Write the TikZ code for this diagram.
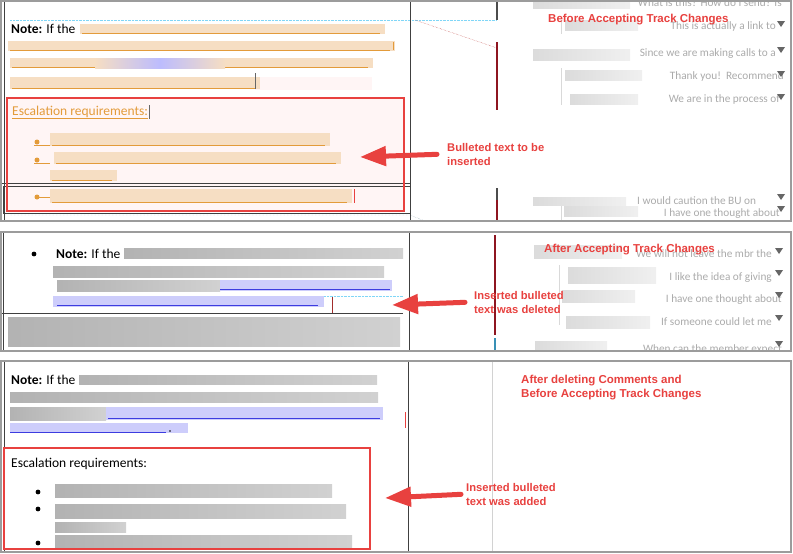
\documentclass[tikz,border=0pt]{standalone}
\usepackage{fontspec}
\setmainfont{Carlito}
\newfontfamily\arialfont{Liberation Sans}
\usetikzlibrary{arrows.meta}

\definecolor{framegray}{HTML}{9C9C9C}
\definecolor{markred}{HTML}{E8413F}
\definecolor{insorange}{HTML}{E39B3A}
\definecolor{peach}{HTML}{F6DEC3}
\definecolor{lavender}{HTML}{CDCDFB}
\definecolor{cmtgray}{HTML}{ABABAB}
\definecolor{linkblue}{HTML}{3C3CE0}
\definecolor{barred}{HTML}{8E1520}

\tikzset{
  panel/.style={draw=framegray, line width=2.5},
  pageedge/.style={draw=black!75, line width=0.8},
  blurbar/.style={left color=black!30, right color=black!18},
  namebar/.style={left color=gray!28, right color=gray!12},
  insbar/.style={fill=peach},
  doctext/.style={font=\fontsize{13.5}{15}\selectfont, inner sep=0},
  cmttext/.style={font=\fontsize{11.3}{13}\selectfont, text=cmtgray, inner sep=0},
  caption/.style={font=\arialfont\bfseries\fontsize{11.5}{14}\selectfont, text=markred, inner sep=0, align=left},
  notelabel/.style={font=\arialfont\bfseries\fontsize{11.2}{14}\selectfont, text=markred, inner sep=0, align=left},
  redbox/.style={draw=markred, line width=2},
  redarrow/.style={draw=markred, line width=5, line cap=round, -{Triangle[length=26pt,width=19pt]}}
}

\begin{document}
\begin{tikzpicture}[x=1pt,y=-1pt]
\useasboundingbox (0,0) rectangle (793,554);
\fill[white] (0,0) rectangle (793,554);

% ---------------- Panel 1: before accepting ----------------
\begin{scope}
\clip (2,2) rectangle (790,220);
\fill[red!4] (7,98) rectangle (404,211);
\fill[red!4] (255,77) rectangle (372,90);
% markup lines
\draw[cyan!50, densely dotted] (10,20) -- (497,20);
\draw[markred!80!black, densely dotted] (415,20) -- (497,48);
\draw[cyan!40!black!50, densely dotted] (10,215) -- (410,215) -- (425,221);
% page edges
\draw[pageedge] (4,0) -- (4,221);
\draw[pageedge] (410,0) -- (410,221);
\draw[pageedge] (0,183.5) -- (410,183.5);
\draw[pageedge] (3,186.5) rectangle (410,213);
% inserted text
\node[doctext, anchor=base west] (noteA) at (11,33) {\textbf{Note:} If the};
\foreach \xa/\ya/\xb/\yb in {80/24/385/34, 8/41/395/51, 10/58/373/68, 10/77/260/89,
    50/133/330/146, 54/152/341/164, 50/170/117/181, 50/189/352/203}
  {\fill[insbar] (\xa,\ya) rectangle (\xb,\yb);
   \draw[insorange, line width=0.8] (\xa+2,\yb-1) -- (\xb-5,\yb-1);}
\shade[left color=peach, right color=peach, middle color=lavender!70!blue!60] (95,58) rectangle (225,68);
\draw[black!60] (255,73) -- (255,89);
\draw[insorange] (393,42) -- (393,50);
\node[doctext, text=insorange, anchor=base west] (escA) at (12,115) {\underline{Escalation requirements:}};
\draw[black!60] ([xshift=1pt]escA.north east) -- ([xshift=1pt]escA.south east);
\foreach \by in {145,163}
  {\fill[insorange] (37,\by-3) circle (2.5);
   \draw[insorange, line width=0.8] (34,\by) -- (50,\by);}
\fill[insorange] (37,197) circle (2.5);
\draw[insorange, line width=0.8] (37,197) -- (50,197);
\draw[markred] (354,189) -- (354,203);
\draw[redbox] (7,98) rectangle (404,211);
% comment pane
\draw[black!70, line width=1.5] (497,0) -- (497,20);
\draw[barred, line width=1.5] (497,42) -- (497,110);
\draw[black!70, line width=1.5] (497,188) -- (497,200);
\draw[barred, line width=1.5] (497,200) -- (497,221);
\draw[gray!30] (561,20) -- (561,34);
\draw[gray!30] (561,68) -- (561,105);
\draw[gray!30] (561,200) -- (561,221);
\foreach \xa/\ya/\xb/\yb in {533/-2/630/8, 565/20/638/30, 533/49/630/60, 565/70/642/80,
    570/94/638/104, 533/197/626/205, 564/206/638/216}
  {\shade[namebar] (\xa,\ya) rectangle (\xb,\yb);}
\node[cmttext, anchor=base east] (cA0) at (782,6) {What is this? How do I send? Is};
\node[cmttext, anchor=base east] (cA1) at (776,30) {This is actually a link to};
\node[cmttext, anchor=base east] (cA2) at (776,56) {Since we are making calls to a};
\node[cmttext, anchor=base east] (cA3) at (784,79) {Thank you!\ \ Recommend};
\node[cmttext, anchor=base east] (cA4) at (780,102) {We are in the process of};
\node[cmttext, anchor=base west] (cA5) at (637,204) {I would caution the BU on};
\node[cmttext, anchor=base east] (cA6) at (780,216) {I have one thought about};
\foreach \tx/\ty in {781/24, 781/50, 781/74, 781/97, 781/197, 781/209}
  {\fill[black!60] (\tx-4,\ty-3) -- (\tx+4,\ty-3) -- (\tx,\ty+3) -- cycle;}
\node[caption, anchor=base west] (capA) at (548,23) {Before Accepting Track Changes};
\end{scope}
\draw[panel] (1,1) rectangle (791,221);

% note and arrow, panel 1
\coordinate (tipA) at (360,157);
\node[notelabel, anchor=north west] (lblA) at (447,143) {Bulleted text to be\\inserted};
\draw[redarrow] ([xshift=-10pt]lblA.west) -- (tipA);

% ---------------- Panel 2: after accepting ----------------
\begin{scope}
\clip (2,233) rectangle (790,350);
\draw[pageedge] (3,232) -- (3,351);
\draw[pageedge] (409,232) -- (409,351);
\node[doctext, anchor=base west] (noteB) at (56,258) {\textbf{Note:} If the};
\fill[black] (34,254) circle (2.4);
\shade[blurbar] (124,248) rectangle (403,258);
\shade[blurbar] (53,266) rectangle (384,277);
\shade[blurbar] (57,280) rectangle (220,291);
\fill[lavender] (220,280) rectangle (392,291);
\fill[lavender] (53,296) rectangle (324,307);
\draw[linkblue, line width=0.7] (220,289) -- (390,289);
\draw[linkblue, line width=0.7] (57,305) -- (318,305);
\draw[markred!70!black] (332,296) -- (332,313);
\draw[cyan!50, densely dotted] (324,296) -- (403,296);
\draw[pageedge] (0,313) -- (403,313);
\shade[blurbar] (8,317) rectangle (400,346);
% comment pane
\draw[barred, line width=1.5] (495,235) -- (495,335);
\draw[cyan!70!black, line width=1.5] (495,338) -- (495,351);
\draw[gray!30] (559,265) -- (559,325);
\foreach \xa/\ya/\xb/\yb in {534/245/622/258, 568/267/656/283, 562/290/635/302,
    566/316/650/328, 535/341/607/352}
  {\shade[namebar] (\xa,\ya) rectangle (\xb,\yb);}
\node[cmttext, anchor=base east] (cB1) at (772,257) {We will not leave the mbr the};
\node[cmttext, anchor=base east] (cB2) at (772,280) {I like the idea of giving};
\node[cmttext, anchor=base east] (cB3) at (782,302) {I have one thought about};
\node[cmttext, anchor=base east] (cB4) at (772,325) {If someone could let me};
\node[cmttext, anchor=base east] (cB5) at (782,352) {When can the member expect};
\foreach \tx/\ty in {779/251, 779/273, 779/295, 779/318, 779/344}
  {\fill[black!60] (\tx-4,\ty-3) -- (\tx+4,\ty-3) -- (\tx,\ty+3) -- cycle;}
\node[caption, anchor=base west] (capB) at (544,252) {After Accepting Track Changes};
\end{scope}
\draw[panel] (1,232) rectangle (791,351);

% note and arrow, panel 2
\coordinate (tipB) at (392,305);
\node[notelabel, anchor=north west] (lblB) at (474,291) {Inserted bulleted\\text was deleted};
\draw[redarrow] ([xshift=-9pt]lblB.west) -- (tipB);

% ---------------- Panel 3: after deleting comments ----------------
\begin{scope}
\clip (2,362) rectangle (790,551);
\draw[pageedge] (4,361) -- (4,552);
\draw[pageedge] (408,361) -- (408,552);
\draw[gray!35] (492,361) -- (492,552);
\node[doctext, anchor=base west] (noteC) at (11,384) {\textbf{Note:} If the};
\shade[blurbar] (79,375) rectangle (377,384);
\shade[blurbar] (10,392) rectangle (378,402);
\shade[blurbar] (10,407) rectangle (106,420);
\fill[lavender] (106,407) rectangle (383,420);
\fill[lavender] (10,423) rectangle (188,433);
\draw[linkblue, line width=0.7] (108,418) -- (380,418);
\draw[linkblue, line width=0.7] (10,432) -- (166,432);
\fill[black] (170,431) circle (0.8);
\draw[markred, line width=1] (405,412) -- (405,428);
\node[doctext, anchor=base west] (escC) at (11,467) {Escalation requirements:};
\foreach \by in {492,509,543}
  {\fill[black] (38,\by) circle (2.4);}
\shade[blurbar] (55,484) rectangle (332,497);
\shade[blurbar] (55,504) rectangle (346,518);
\shade[blurbar] (55,522) rectangle (126,532);
\shade[blurbar] (55,535) rectangle (352,548);
\draw[redbox] (4,448) rectangle (370,549);
\node[caption, anchor=north west] (capC) at (521,375) {After deleting Comments and\\Before Accepting Track Changes};
\end{scope}
\draw[panel] (1,361) rectangle (791,552);

% note and arrow, panel 3
\coordinate (tipC) at (385,498);
\node[notelabel, anchor=north west] (lblC) at (466,483) {Inserted bulleted\\text was added};
\draw[redarrow] ([xshift=-5pt]lblC.west) -- (tipC);
\end{tikzpicture}
\end{document}
